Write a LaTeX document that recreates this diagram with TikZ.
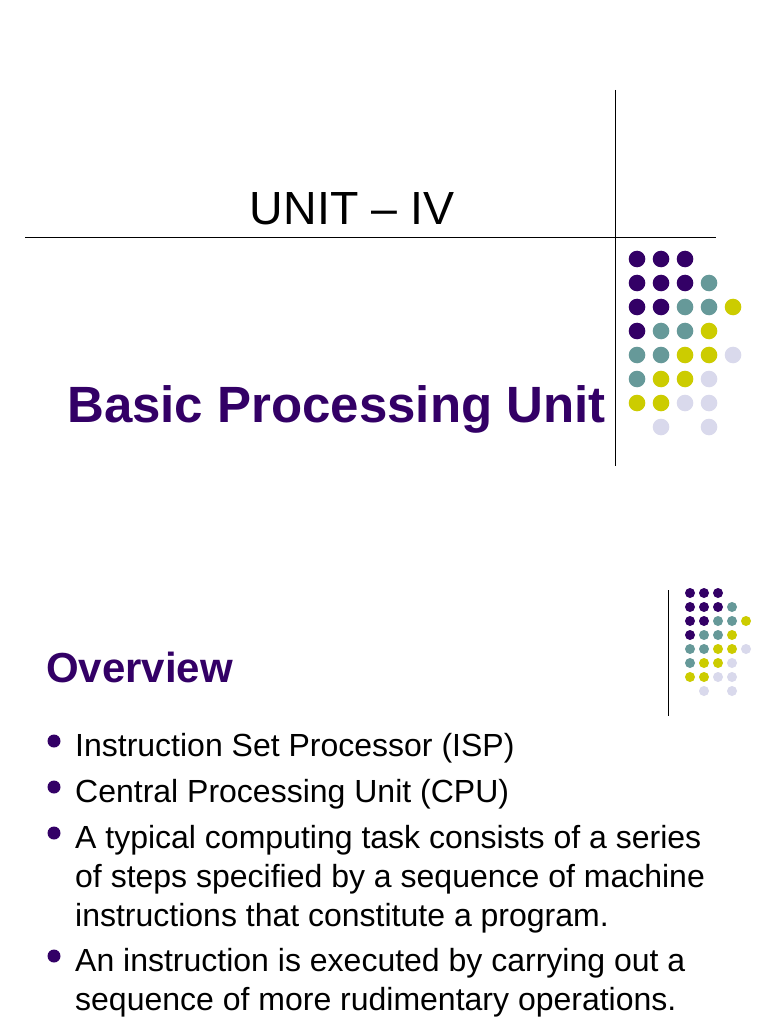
\documentclass[tikz,border=0pt]{standalone}
\usepackage{fontspec}
\setmainfont{Liberation Sans}
\definecolor{pu}{HTML}{330066}
\definecolor{te}{HTML}{669999}
\definecolor{ye}{HTML}{CCCC00}
\definecolor{la}{HTML}{D9D9EC}
\begin{document}
\begin{tikzpicture}[x=1pt,y=-1pt,
 txt/.style={anchor=base west,inner sep=0pt,font=\fontsize{32}{38}\selectfont},
 bul/.style={circle,fill=pu,inner sep=0pt,minimum size=13pt}]
\useasboundingbox (0,0) rectangle (768,1024);
\fill[white] (0,0) rectangle (768,1024);
\draw[line width=1pt] (615,90) -- (615,466);
\draw[line width=1pt] (25,237) -- (716,237);
\draw[line width=1pt] (668,590) -- (668,716);
\def\grid#1#2#3#4{%
 \foreach \r/\list in {0/{pu,pu,pu,none,none},1/{pu,pu,pu,te,none},2/{pu,pu,te,te,ye},3/{pu,te,te,ye,none},4/{te,te,ye,ye,la},5/{te,ye,ye,la,none},6/{ye,ye,la,la,none},7/{none,la,none,la,none}}{%
  \foreach \c [count=\i from 0] in \list {%
   \ifx\c\nonecol\else\fill[\c] ({#1+\i*#3},{#2+\r*#3}) circle (#4);\fi}}}
\def\nonecol{none}
\grid{637}{259}{24}{8.3}
\grid{690}{593}{14}{5}
\node[anchor=base,inner sep=0pt,font=\fontsize{46.5}{54}\selectfont] (u) at (352,225) {UNIT – IV};
\node[anchor=base west,inner sep=0pt,text=pu,font=\fontsize{51}{60}\bfseries\selectfont] (b) at (67,422) {Basic Processing Unit};
\node[anchor=base west,inner sep=0pt,text=pu,font=\fontsize{42}{48}\bfseries\selectfont] (o) at (46,682) {Overview};
\node[txt] (t1) at (75,756) {Instruction Set Processor (ISP)};
\node[txt] (t2) at (75,802) {Central Processing Unit (CPU)};
\node[txt] (t3) at (75,848) {A typical computing task consists of a series};
\node[txt] (t3b) at (75,887) {of steps specified by a sequence of machine};
\node[txt] (t3c) at (75,926) {instructions that constitute a program.};
\node[txt] (t4) at (75,971) {An instruction is executed by carrying out a};
\node[txt] (t4b) at (75,1010) {sequence of more rudimentary operations.};
\foreach \y/\n in {741/a,787/b,833/c,956/d} \node[bul] (b\n) at (54,\y) {};
\end{tikzpicture}
\end{document}
